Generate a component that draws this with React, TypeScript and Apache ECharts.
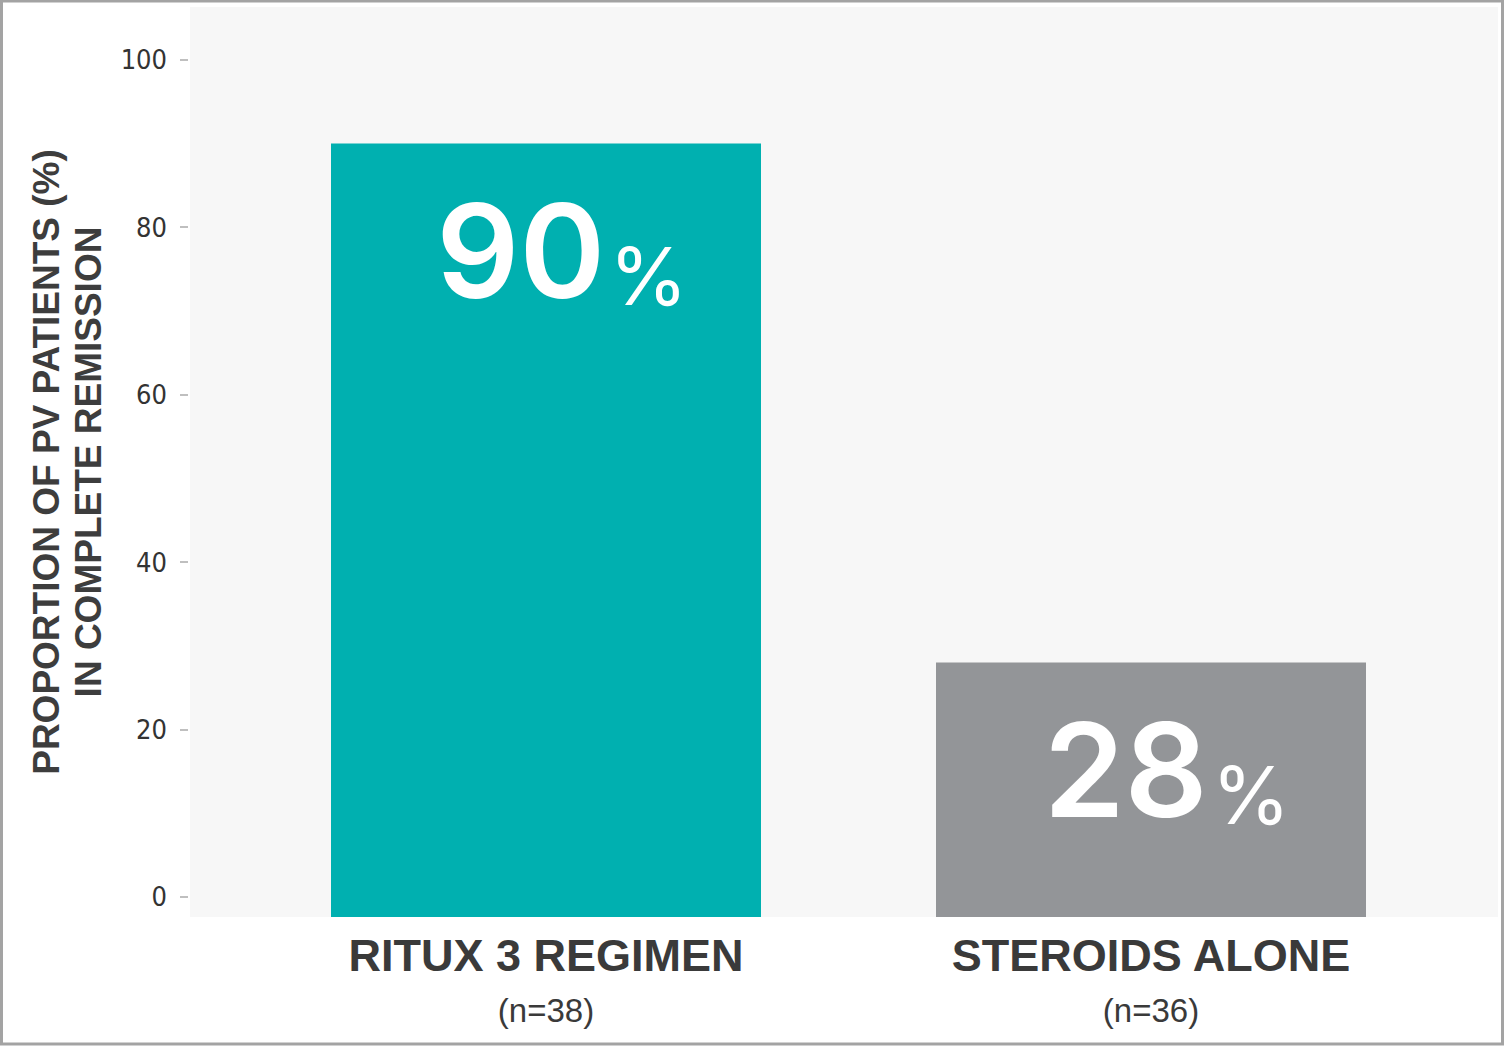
import React, { useEffect, useRef } from 'react'
import * as echarts from 'echarts'

const categories = ['RITUX 3 REGIMEN', 'STEROIDS ALONE']
const sampleSizes = [38, 36]
const remissionRates = [90, 28]
const barColors = ['#00b0b0', '#939598']
const yTicks = [0, 20, 40, 60, 80, 100]

// the plotting area reaches a little below 0, bars go down to its floor
const Y_MIN = -2.39
const Y_MAX = 106.3

const App = () => {
	const chartRef = useRef(null)

	useEffect(() => {
		const chart = echarts.init(chartRef.current, null, { renderer: 'svg' })

		const options = {
			animation: false,
			backgroundColor: '#ffffff',
			graphic: [
				{
					type: 'rect',
					z: -10,
					shape: { x: 190, y: 7, width: 1308, height: 910 },
					style: { fill: '#f7f7f7' },
				},
				{
					type: 'rect',
					z: 10,
					shape: { x: 1.5, y: 1, width: 1501, height: 1043 },
					style: { fill: 'none', stroke: '#a3a3a3', lineWidth: 3 },
				},
			],
			grid: {
				left: 243.5,
				right: 52.5,
				top: 7,
				bottom: 130,
				outerBoundsMode: 'none',
				containLabel: false,
			},
			xAxis: {
				type: 'category',
				data: categories,
				axisLine: { show: false },
				axisTick: { show: false },
				axisLabel: {
					margin: 12,
					formatter: (value, idx) => `{a|${value}}\n{b|(n=${sampleSizes[idx]})}`,
					rich: {
						a: {
							fontFamily: 'Liberation Sans, Arial, sans-serif',
							fontSize: 45,
							fontWeight: 'bold',
							color: '#3a3a3a',
							lineHeight: 52,
						},
						b: {
							fontFamily: 'Liberation Sans, Arial, sans-serif',
							fontSize: 33,
							color: '#3a3a3a',
							lineHeight: 58,
						},
					},
				},
			},
			yAxis: {
				type: 'value',
				min: Y_MIN,
				max: Y_MAX,
				startValue: Y_MIN,
				offset: 55.5,
				name: 'PROPORTION OF PV PATIENTS (%)\nIN COMPLETE REMISSION',
				nameLocation: 'middle',
				nameRotate: 90,
				nameGap: 78,
				nameTextStyle: {
					fontFamily: 'Liberation Sans, Arial, sans-serif',
					fontSize: 37,
					fontWeight: 'bold',
					color: '#3d3d3d',
					lineHeight: 42,
				},
				splitLine: { show: false },
				axisLine: { show: false },
				axisTick: {
					show: true,
					length: 8,
					customValues: yTicks,
					lineStyle: { color: '#aaaaaa', width: 1.5 },
				},
				axisLabel: {
					customValues: yTicks,
					margin: 21,
					fontFamily: 'Liberation Sans Narrow, DejaVu Sans Condensed, sans-serif',
					fontSize: 27,
					color: '#333333',
				},
			},
			series: [
				{
					type: 'bar',
					barWidth: 430,
					data: remissionRates.map((v, i) => ({
						value: v,
						itemStyle: { color: barColors[i] },
					})),
					label: {
						show: true,
						position: 'insideTop',
						distance: 0,
						offset: [16, 42],
						formatter: (p) => `{v|${p.value}}{p|%}`,
						rich: {
							v: {
								fontFamily: 'Inter, Lato, sans-serif',
								fontSize: 130,
								fontWeight: 600,
								color: '#ffffff',
								lineHeight: 130,
								verticalAlign: 'bottom',
							},
							p: {
								fontFamily: 'Inter, Lato, sans-serif',
								fontSize: 80,
								fontWeight: 400,
								color: '#ffffff',
								lineHeight: 124,
								padding: [0, 0, 0, 4],
								verticalAlign: 'bottom',
							},
						},
					},
				},
			],
		}

		chart.setOption(options)

		return () => {
			chart.dispose()
		}
	}, [])

	return (
		<div
			ref={chartRef}
			style={{ position: 'fixed', left: 0, top: 0, width: '1506px', height: '1047px' }}
		/>
	)
}

export default App
